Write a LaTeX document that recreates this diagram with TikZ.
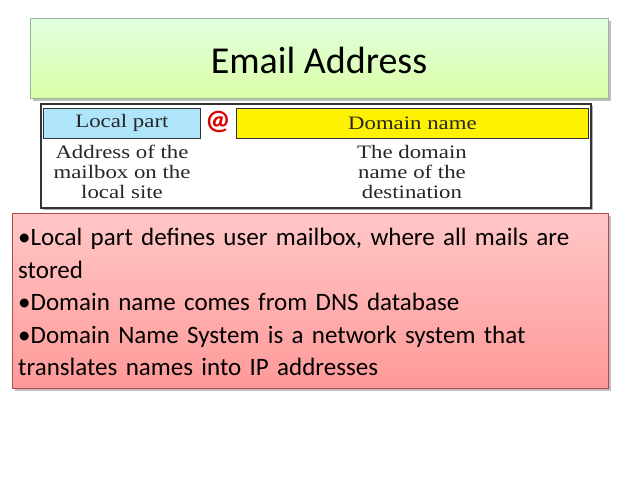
\documentclass[tikz,border=0pt]{standalone}
\usepackage{fontspec}
\setmainfont{Carlito}
\newfontfamily\serifx{Liberation Serif}
\begin{document}
\begin{tikzpicture}[x=1pt,y=-1pt,
  cell/.style={draw=black!80,line width=0.8pt,inner sep=0pt},
  ctext/.style={font=\serifx\fontsize{19}{20}\selectfont,align=center,text=black!85,xscale=1.2},
  body/.style={font=\fontsize{25}{32.5}\selectfont,anchor=north west,align=left,text width=600pt,inner sep=0pt}]
\useasboundingbox (0,0) rectangle (638,479);
\fill[black!25] (33,21) rectangle (611,101);
\shade[top color=green!12!white,bottom color=green!40!yellow!35!white,draw=green!30!black!40] (30,18) rectangle (608,98);
\node (title) at (319,60) {\fontsize{38}{40}\selectfont Email Address};
\fill[black!30] (43,106) rectangle (593,210);
\node[cell,fill=white,line width=1.6pt,minimum width=550pt,minimum height=104pt,anchor=north west] (img) at (40,103) {};
\node[cell,fill=cyan!45!white!70,minimum width=157pt,minimum height=30pt,anchor=north west] (lp) at (43,108) {};
\node[ctext] at (lp.center) {Local part};
\node[text=red!85!black,font=\fontsize{28}{28}\selectfont\bfseries] (at) at (218,122) {@};
\node[cell,fill=yellow,minimum width=352pt,minimum height=30pt,anchor=north west] (dn) at (236,108) {};
\node[ctext] at (dn.center) {Domain name};
\node[ctext] (la) at (122,172) {Address of the\\mailbox on the\\local site};
\node[ctext] (da) at (412,172) {The domain\\name of the\\destination};
\fill[black!25] (15,216) rectangle (611,391);
\shade[top color=red!22!white,bottom color=red!40!white,draw=red!55!black!70] (12,213) rectangle (608,388);
\node[body] (txt) at (18,228) {•Local part defines user mailbox, where all mails are\\stored\\•Domain name comes from DNS database\\•Domain Name System is a network system that\\translates names into IP addresses};
\end{tikzpicture}
\end{document}
